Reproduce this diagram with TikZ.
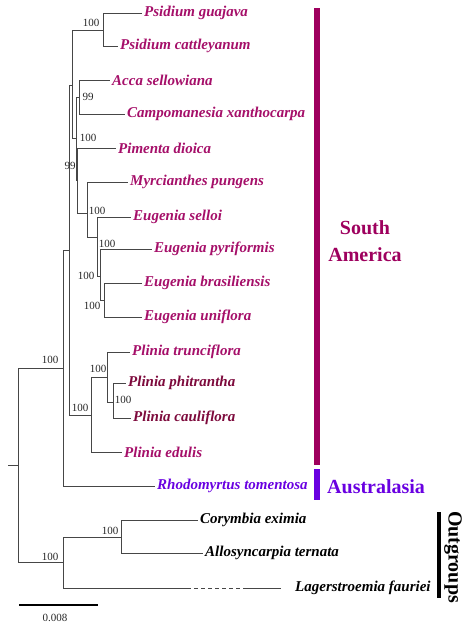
\documentclass[tikz,border=0pt]{standalone}
\usepackage{fontspec}
\setmainfont{Liberation Serif}
\definecolor{samag}{RGB}{158,0,94}
\definecolor{leafmag}{RGB}{165,15,105}
\definecolor{leafdark}{RGB}{125,10,60}
\definecolor{auviolet}{RGB}{105,0,225}
\definecolor{brgray}{RGB}{70,70,70}
\begin{document}
\begin{tikzpicture}[x=1pt,y=-1pt,
  br/.style={draw=brgray, line width=1pt},
  tip/.style={anchor=west, inner xsep=2pt, inner ysep=0pt, font=\fontsize{15}{17}\selectfont\bfseries\itshape},
  sa/.style={tip, text=leafmag},
  sad/.style={tip, text=leafdark},
  au/.style={tip, text=auviolet},
  og/.style={tip, text=black},
  bs/.style={font=\fontsize{11}{12}\selectfont, inner sep=0pt, text=black!85},
  region/.style={font=\fontsize{20}{27}\selectfont\bfseries, inner sep=0pt}
]
\useasboundingbox (0,0) rectangle (474,625);

% internal nodes
\coordinate (R) at (18,465);
\coordinate (Rs) at (8,465);
\coordinate (B) at (63,368);
\coordinate (A) at (69,250);
\coordinate (C) at (72,85);
\coordinate (Ps) at (103,30);
\coordinate (D) at (76,138);
\coordinate (AC) at (79,97);
\coordinate (F) at (77.5,180);
\coordinate (G) at (87,213);
\coordinate (H) at (97,237);
\coordinate (I) at (100,276);
\coordinate (J) at (104,300);
\coordinate (K) at (91,415);
\coordinate (L) at (107,377);
\coordinate (M) at (113,402);
\coordinate (O) at (63,562);
\coordinate (P) at (121,537);

% leaf tips
\coordinate (l1) at (142,13);
\coordinate (l2) at (118,46);
\coordinate (l3) at (110,80);
\coordinate (l4) at (125,114);
\coordinate (l5) at (116,148);
\coordinate (l6) at (128,182);
\coordinate (l7) at (131,217);
\coordinate (l8) at (152,249);
\coordinate (l9) at (142,283);
\coordinate (l10) at (142,317);
\coordinate (l11) at (130,352);
\coordinate (l12) at (126,383);
\coordinate (l13) at (131,418);
\coordinate (l14) at (122,452);
\coordinate (l15) at (155,486);
\coordinate (l16) at (198,520);
\coordinate (l17) at (203,553);
\coordinate (lagA) at (187,588);
\coordinate (lagB) at (247,588);
\coordinate (l18) at (281,588);

% branches
\draw[br] (Rs) -- (R);
\draw[br] (R) |- (B);
\draw[br] (R) |- (O);
\draw[br] (B) |- (A);
\draw[br] (B) |- (l15);
\draw[br] (A) |- (C);
\draw[br] (A) |- (K);
\draw[br] (C) |- (Ps);
\draw[br] (C) |- (D);
\draw[br] (Ps) |- (l1);
\draw[br] (Ps) |- (l2);
\draw[br] (D) |- (AC);
\draw[br] (D) |- (F);
\draw[br] (AC) |- (l3);
\draw[br] (AC) |- (l4);
\draw[br] (F) |- (l5);
\draw[br] (F) |- (G);
\draw[br] (G) |- (l6);
\draw[br] (G) |- (H);
\draw[br] (H) |- (l7);
\draw[br] (H) |- (I);
\draw[br] (I) |- (l8);
\draw[br] (I) |- (J);
\draw[br] (J) |- (l9);
\draw[br] (J) |- (l10);
\draw[br] (K) |- (L);
\draw[br] (K) |- (l14);
\draw[br] (L) |- (l11);
\draw[br] (L) |- (M);
\draw[br] (M) |- (l12);
\draw[br] (M) |- (l13);
\draw[br] (O) |- (P);
\draw[br] (O) |- (lagA);
\draw[br, dashed, dash pattern=on 4pt off 3pt] (lagA) -- (lagB);
\draw[br] (lagB) -- (l18);
\draw[br] (P) |- (l16);
\draw[br] (P) |- (l17);

% leaf labels
\node[sa] (n1) at (l1) {Psidium guajava};
\node[sa] (n2) at (l2) {Psidium cattleyanum};
\node[sa] (n3) at (l3) {Acca sellowiana};
\node[sa] (n4) at (l4) {Campomanesia xanthocarpa};
\node[sa] (n5) at (l5) {Pimenta dioica};
\node[sa] (n6) at (l6) {Myrcianthes pungens};
\node[sa] (n7) at (l7) {Eugenia selloi};
\node[sa] (n8) at (l8) {Eugenia pyriformis};
\node[sa] (n9) at (l9) {Eugenia brasiliensis};
\node[sa] (n10) at (l10) {Eugenia uniflora};
\node[sa] (n11) at (l11) {Plinia trunciflora};
\node[sad] (n12) at (l12) {Plinia phitrantha};
\node[sad] (n13) at (l13) {Plinia cauliflora};
\node[sa] (n14) at (l14) {Plinia edulis};
\node[au] (n15) at (l15) {Rhodomyrtus tomentosa};
\node[og] (n16) at (l16) {Corymbia eximia};
\node[og] (n17) at (l17) {Allosyncarpia ternata};
\node[og, anchor=west, xshift=12pt] (n18) at (l18) {Lagerstroemia fauriei};

% support values
\node[bs] (s1) at (91,23) {100};
\node[bs] (s2) at (88,97) {99};
\node[bs] (s3) at (88,138) {100};
\node[bs] (s4) at (70,166) {99};
\node[bs] (s5) at (97,211) {100};
\node[bs] (s6) at (107,244) {100};
\node[bs] (s7) at (86,276) {100};
\node[bs] (s8) at (92,306) {100};
\node[bs] (s9) at (50,360) {100};
\node[bs] (s10) at (98,369) {100};
\node[bs] (s11) at (80,408) {100};
\node[bs] (s12) at (123,400) {100};
\node[bs] (s13) at (50,557) {100};
\node[bs] (s14) at (110,531) {100};

% region bars
\coordinate (saT) at (317,8);
\coordinate (saB) at (317,465);
\coordinate (auT) at (317,469);
\coordinate (auB) at (317,500);
\coordinate (ogT) at (439,512);
\coordinate (ogB) at (439,598);
\draw[samag, line width=6pt] (saT) -- (saB);
\draw[auviolet, line width=6pt] (auT) -- (auB);
\draw[black, line width=4pt] (ogT) -- (ogB);
\node[region, text=samag, align=center] (rsa) at (365,241) {South\\America};
\node[region, text=auviolet, anchor=west] (rau) at (327,487) {Australasia};
\node[region, text=black, rotate=-90] (rog) at (453,557) {Outgroups};

% scale bar
\coordinate (sbL) at (19,605);
\coordinate (sbR) at (98,605);
\draw[black, line width=2pt] (sbL) -- (sbR);
\node[bs] (sbt) at (55,618) {0.008};
\end{tikzpicture}
\end{document}
